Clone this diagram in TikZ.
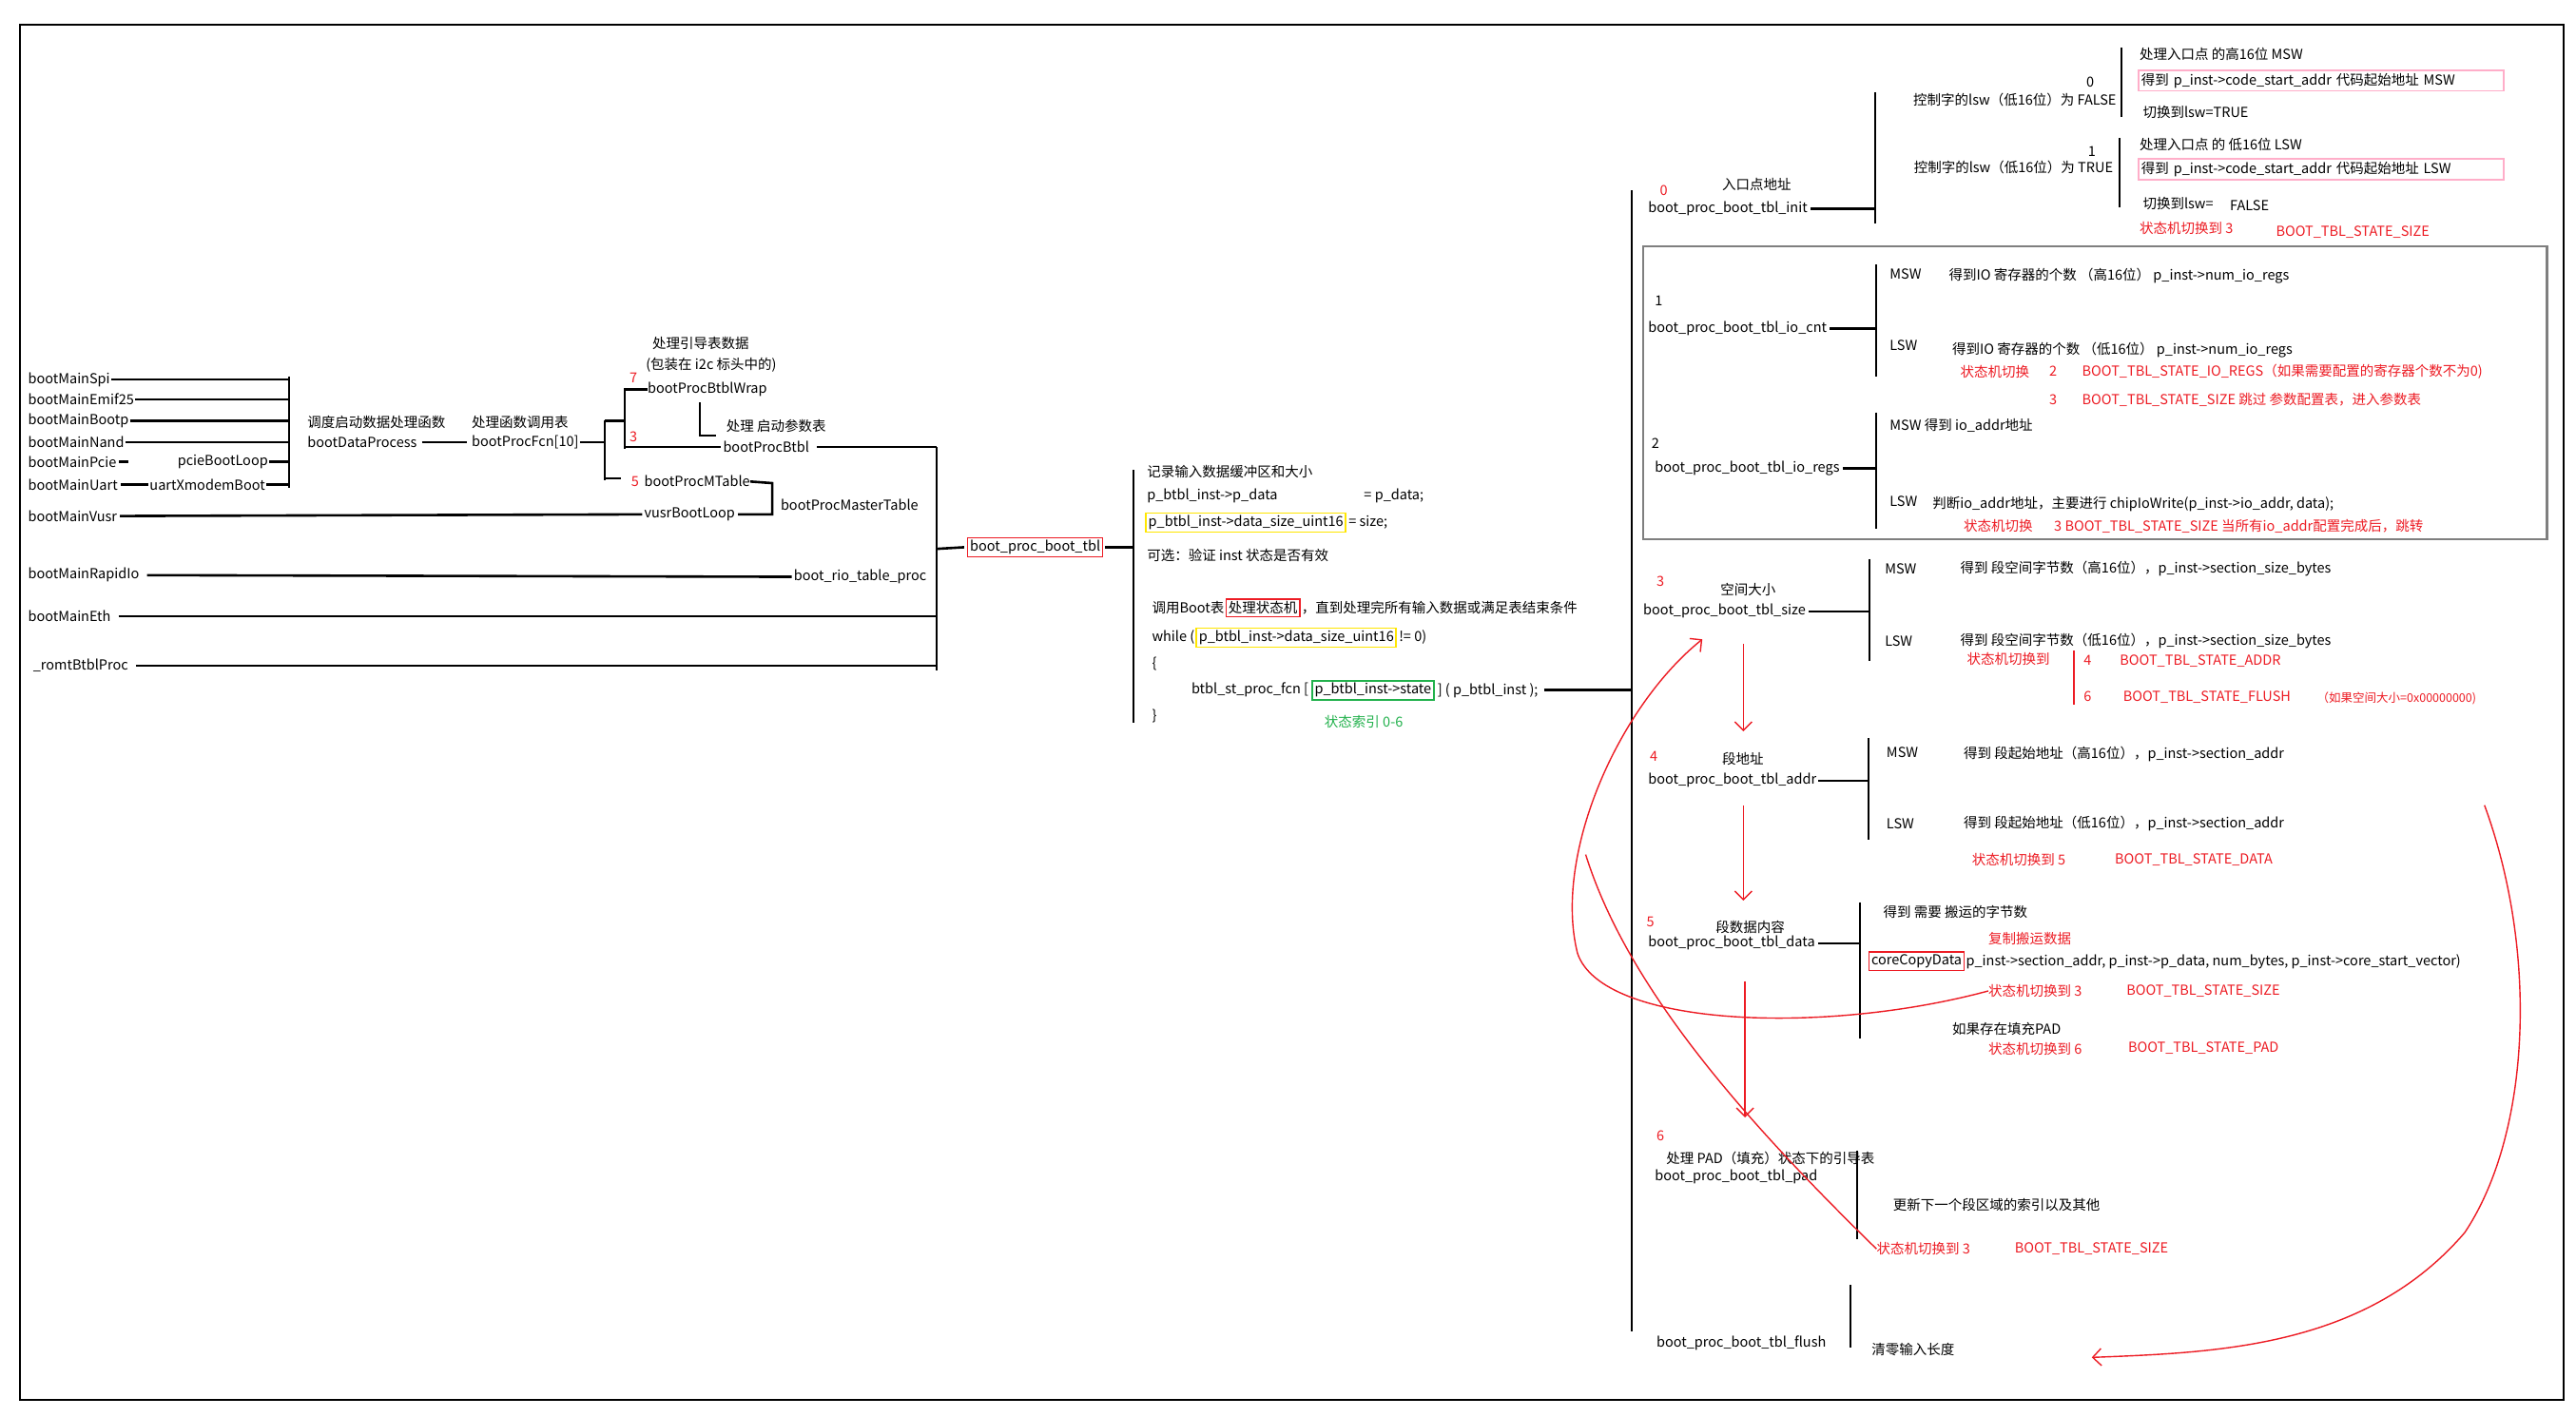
\documentclass[tikz,border=0pt]{standalone}
\usepackage{fontspec}
\setmainfont{Noto Sans CJK SC}
\usetikzlibrary{arrows.meta}
\definecolor{myred}{RGB}{237,28,36}
\definecolor{mygreen}{RGB}{34,177,76}
\definecolor{myyellow}{RGB}{255,230,0}
\definecolor{mypink}{RGB}{255,174,201}
\definecolor{mygray}{RGB}{127,127,127}
\begin{document}
\begin{tikzpicture}[x=1.728pt,y=-1.728pt,
 t/.style={anchor=west,inner sep=0pt,font=\fontsize{14.5}{17}\selectfont},
 te/.style={t,anchor=east},
 r/.style={t,text=myred},
 g/.style={t,text=mygreen},
 ln/.style={line width=2.6pt},
 bar/.style={line width=2pt},
 box/.style={t,line width=1.6pt,inner sep=2.5pt},
 rbox/.style={box,draw=myred},
 ybox/.style={box,draw=myyellow},
 pbox/.style={box,draw=mypink,inner sep=3pt,text width=378pt,align=left},
 arr/.style={myred,line width=1.4pt,-{Straight Barb[length=9pt,width=18pt,line width=1.4pt]}},
 cur/.style={myred,line width=1.4pt}]
\useasboundingbox (0,0) rectangle (1567.7,861.7);
\fill[white] (0,0) rectangle (1567.7,861.7);
\draw[line width=2pt] (12,15) rectangle (1560,852);

% ---------- left column ----------
\coordinate (A) at (176,230);
\coordinate (C) at (570,272);
\node[t] (spi) at (17,231) {bootMainSpi};
\node[t] (emif) at (17,243) {bootMainEmif25};
\node[t] (bootp) at (17,256) {bootMainBootp};
\node[t] (nand) at (17,269) {bootMainNand};
\node[t] (pcie) at (17,281) {bootMainPcie};
\node[t] (pcl) at (108,281) {pcieBootLoop};
\node[t] (uart) at (17,295) {bootMainUart};
\node[t] (uxb) at (91,295) {uartXmodemBoot};
\node[t] (vusr) at (17,314) {bootMainVusr};
\node[t] (rapid) at (17,350) {bootMainRapidIo};
\node[t] (eth) at (17,375) {bootMainEth};
\node[t] (romt) at (20,405) {\_romtBtblProc};
\draw[bar] (176,229) -- (176,297);
\foreach \n in {spi,emif,bootp,nand,pcl,uxb} \draw[ln] ([xshift=1pt]\n.east) -- (\n.east -| A);
\draw[ln] ([xshift=3pt]pcie.east) -- ([xshift=13pt]pcie.east);
\draw[ln] ([xshift=3pt]uart.east) -- ([xshift=-1pt]uxb.west);

\node[t] (bdpl) at (187,257) {调度启动数据处理函数};
\node[t] (bdp) at (187,269) {bootDataProcess};
\node[t] (bpfl) at (287,257) {处理函数调用表};
\node[t] (bpf) at (287,269) {bootProcFcn[10]};
\draw[ln] ([xshift=5pt]bdp.east) -- ([xshift=-5pt]bpf.west);
\draw[ln] ([xshift=1pt]bpf.east) -- (368,269);
\draw[bar] (368,256) -- (368,292);
\draw[ln] (368,256) -- (380,256);
\draw[bar] (380,236) -- (380,273);
\node[t] (hl1) at (397,209) {处理引导表数据};
\node[t] (hl2) at (393,222) {(包装在 i2c 标头中的)};
\node[r] (n7) at (383,230) {7};
\node[t] (wrap) at (394,237) {bootProcBtblWrap};
\draw[ln] (380,237) -- (wrap.west);
\draw[ln] (426,245) -- (426,265) -- (436,265);
\node[t] (pstb) at (442,259) {处理 启动参数表};
\node[r] (n3) at (383,266) {3};
\node[t] (btbl) at (440,272) {bootProcBtbl};
\draw[ln] (380,272) -- ([xshift=-2pt]btbl.west);
\draw[ln] (368,291) -- (378,291);
\node[r] (n5) at (384,293) {5};
\node[t] (mtab) at (392,293) {bootProcMTable};
\node[t] (vbl) at (392,313) {vusrBootLoop};
\node[t] (mast) at (475,307) {bootProcMasterTable};
\draw[ln] (mtab.east) -- (470,294) -- (470,313) -- ([xshift=3pt]vbl.east);
\draw[ln] ([xshift=3pt]vusr.east) -- ([xshift=-2pt]vbl.west);
\node[t] (rio) at (483,351) {boot\_rio\_table\_proc};
\draw[ln] ([xshift=8pt]rapid.east) -- ([xshift=-2pt]rio.west);
\draw[ln] ([xshift=8pt]btbl.east) -- (btbl.east -| C);
\draw[ln] (C) -- (570,408);
\draw[ln] ([xshift=8pt]eth.east) -- (eth.east -| C);
\draw[ln] ([xshift=8pt]romt.east) -- (romt.east -| C);

\node[rbox,anchor=center] (bpbt) at (630,333) {boot\_proc\_boot\_tbl};
\draw[ln] (570,334) -- ([xshift=-3pt]bpbt.west);
\draw[ln] ([xshift=2pt]bpbt.east) -- (690,333);
\draw[bar] (690,286) -- (690,440);

% ---------- code block ----------
\node[t] (k1) at (698,287) {记录输入数据缓冲区和大小};
\node[t] (k2) at (698,302) {p\_btbl\_inst->p\_data};
\node[t] (k2b) at (830,302) {= p\_data;};
\node[ybox] (k3) at (697,318) {p\_btbl\_inst->data\_size\_uint16};
\node[t] (k3b) at ([xshift=2pt]k3.east) {= size;};
\node[t] (k4) at (698,338) {可选：验证 inst 状态是否有效};
\node[t] (k5) at (701,370) {调用Boot表};
\node[rbox] (k5b) at ([xshift=1pt]k5.east) {处理状态机};
\node[t] (k5c) at ([xshift=1pt]k5b.east) {，直到处理完所有输入数据或满足表结束条件};
\node[t] (k6) at (701,388) {while (};
\node[ybox] (k6b) at ([xshift=1pt]k6.east) {p\_btbl\_inst->data\_size\_uint16};
\node[t] (k6c) at ([xshift=2pt]k6b.east) {!= 0)};
\node[t] (k7) at (701,404) {\{};
\node[t] (k8) at (725,420) {btbl\_st\_proc\_fcn [};
\node[box,draw=mygreen] (k8b) at ([xshift=3pt]k8.east) {p\_btbl\_inst->state};
\node[t] (k8c) at ([xshift=3pt]k8b.east) {] ( p\_btbl\_inst );};
\node[t] (k9) at (701,436) {\}};
\node[g] (k10) at (806,439) {状态索引  0-6};
\coordinate (M) at (993,420);
\draw[ln] ([xshift=6pt]k8c.east) -- (k8c.east -| M);
\draw[bar] (993,116) -- (993,810);

% ---------- state 0 ----------
\node[r] (s0) at (1010,116) {0};
\node[t] (s0l) at (1048,112) {入口点地址};
\node[t] (init) at (1003,127) {boot\_proc\_boot\_tbl\_init};
\draw[ln] ([xshift=3pt]init.east) -- (1141,127);
\draw[bar] (1141,56) -- (1141,136);
\node[t,anchor=center] (z0) at (1272,50) {0};
\node[te] (fal) at (1288,61) {控制字的lsw（低16位）为 FALSE};
\node[t,anchor=center] (z1) at (1273,92) {1};
\node[te] (tru) at (1286,102) {控制字的lsw（低16位）为 TRUE};
\draw[bar] (1291,29) -- (1291,71);
\draw[bar] (1290,84) -- (1290,126);
\node[t] (m1) at (1302,33) {处理入口点 的高16位  MSW};
\node[pbox] (m2) at (1301,49) {得到  p\_inst->code\_start\_addr 代码起始地址 MSW};
\node[t] (m3) at (1304,68) {切换到lsw=TRUE};
\node[t] (l1) at (1302,88) {处理入口点 的 低16位  LSW};
\node[pbox] (l2) at (1301,103) {得到  p\_inst->code\_start\_addr 代码起始地址 LSW};
\node[t] (l3) at (1304,124) {切换到lsw=};
\node[t] (l3b) at (1357,125) {FALSE};
\node[r] (l4) at (1302,139) {状态机切换到  3};
\node[r] (l4b) at (1385,141) {BOOT\_TBL\_STATE\_SIZE};

% ---------- states 1,2 (gray box) ----------
\draw[mygray,line width=2.2pt] (1000,150) rectangle (1550,328);
\node[t] (s1) at (1007,183) {1};
\node[t] (iocnt) at (1003,200) {boot\_proc\_boot\_tbl\_io\_cnt};
\draw[ln] ([xshift=3pt]iocnt.east) -- (1142,200);
\draw[bar] (1142,161) -- (1142,229);
\node[t] (c1a) at (1150,167) {MSW};
\node[t] (c1b) at (1186,168) {得到IO 寄存器的个数 （高16位） p\_inst->num\_io\_regs};
\node[t] (c2a) at (1150,210) {LSW};
\node[t] (c2b) at (1188,213) {得到IO 寄存器的个数 （低16位） p\_inst->num\_io\_regs};
\node[r] (c3a) at (1193,226) {状态机切换};
\node[r] (c3b) at (1247,226) {2};
\node[r] (c3c) at (1267,226) {BOOT\_TBL\_STATE\_IO\_REGS（如果需要配置的寄存器个数不为0)};
\node[r] (c4a) at (1247,243) {3};
\node[r] (c4b) at (1267,243) {BOOT\_TBL\_STATE\_SIZE   跳过 参数配置表，进入参数表};
\node[t] (s2) at (1005,270) {2};
\node[t] (ioregs) at (1007,285) {boot\_proc\_boot\_tbl\_io\_regs};
\draw[ln] ([xshift=3pt]ioregs.east) -- (1142,285);
\draw[bar] (1142,251) -- (1142,322);
\node[t] (d1) at (1150,259) {MSW  得到 io\_addr地址};
\node[t] (d2a) at (1150,305) {LSW};
\node[t] (d2b) at (1176,307) {判断io\_addr地址，主要进行 chipIoWrite(p\_inst->io\_addr, data);};
\node[r] (d3a) at (1195,320) {状态机切换};
\node[r] (d3b) at (1250,320) {3  BOOT\_TBL\_STATE\_SIZE   当所有io\_addr配置完成后，跳转};

% ---------- state 3 ----------
\node[r] (s3) at (1008,354) {3};
\node[t] (s3l) at (1047,359) {空间大小};
\node[t] (size) at (1000,372) {boot\_proc\_boot\_tbl\_size};
\draw[ln] ([xshift=3pt]size.east) -- (1138,372);
\draw[bar] (1138,340) -- (1138,402);
\node[t] (e1a) at (1147,346) {MSW};
\node[t] (e1b) at (1193,346) {得到 段空间字节数（高16位），p\_inst->section\_size\_bytes};
\node[t] (e2a) at (1147,390) {LSW};
\node[t] (e2b) at (1193,390) {得到 段空间字节数（低16位），p\_inst->section\_size\_bytes};
\node[r] (e3) at (1197,401) {状态机切换到};
\draw[myred,line width=1.6pt] (1262,396) -- (1262,429);
\node[r] (e4a) at (1268,402) {4};
\node[r] (e4b) at (1290,402) {BOOT\_TBL\_STATE\_ADDR};
\node[r] (e5a) at (1268,424) {6};
\node[r] (e5b) at (1292,424) {BOOT\_TBL\_STATE\_FLUSH};
\node[r,font=\fontsize{12.5}{15}\selectfont] (e5c) at (1410,425) {（如果空间大小=0x00000000)};

% ---------- state 4 ----------
\node[r] (s4) at (1004,460) {4};
\node[t] (s4l) at (1048,462) {段地址};
\node[t] (addr) at (1003,475) {boot\_proc\_boot\_tbl\_addr};
\draw[ln] ([xshift=2pt]addr.east) -- (1137,475);
\draw[bar] (1137,449) -- (1137,511);
\node[t] (f1a) at (1148,458) {MSW};
\node[t] (f1b) at (1195,459) {得到  段起始地址（高16位），p\_inst->section\_addr};
\node[t] (f2a) at (1148,501) {LSW};
\node[t] (f2b) at (1195,501) {得到  段起始地址（低16位），p\_inst->section\_addr};
\node[r] (f3a) at (1200,523) {状态机切换到   5};
\node[r] (f3b) at (1287,523) {BOOT\_TBL\_STATE\_DATA};

% ---------- state 5 ----------
\node[r] (s5) at (1002,561) {5};
\node[t] (s5l) at (1044,564) {段数据内容};
\node[t] (data) at (1003,574) {boot\_proc\_boot\_tbl\_data};
\draw[ln] ([xshift=3pt]data.east) -- (1132,574);
\draw[bar] (1132,549) -- (1132,632);
\node[t] (g1) at (1146,555) {得到 需要 搬运的字节数};
\node[r] (g2) at (1210,571) {复制搬运数据};
\node[rbox] (g3) at (1137,585) {coreCopyData};
\node[t] (g3b) at ([xshift=1pt]g3.east) {p\_inst->section\_addr, p\_inst->p\_data, num\_bytes, p\_inst->core\_start\_vector)};
\node[r] (g4a) at (1210,603) {状态机切换到  3};
\node[r] (g4b) at (1294,603) {BOOT\_TBL\_STATE\_SIZE};
\node[t] (g5) at (1188,626) {如果存在填充PAD};
\node[r] (g6a) at (1210,638) {状态机切换到 6};
\node[r] (g6b) at (1295,638) {BOOT\_TBL\_STATE\_PAD};

% ---------- state 6 ----------
\node[r] (s6) at (1008,691) {6};
\node[t] (s6l) at (1014,705) {处理 PAD（填充）状态下的引导表};
\node[t] (pad) at (1007,716) {boot\_proc\_boot\_tbl\_pad};
\draw[bar] (1130,700) -- (1130,754);
\node[t] (h1) at (1152,733) {更新下一个段区域的索引以及其他};
\node[r] (h2a) at (1142,760) {状态机切换到  3};
\node[r] (h2b) at (1226,760) {BOOT\_TBL\_STATE\_SIZE};

% ---------- flush ----------
\node[t] (flush) at (1008,817) {boot\_proc\_boot\_tbl\_flush};
\draw[bar] (1126,782) -- (1126,820);
\node[t] (fl1) at (1139,821) {清零输入长度};

% ---------- red arrows ----------
\draw[arr] (1061,392) -- (1061,445);
\draw[arr] (1061,490) -- (1061,548);
\draw[arr] (1062,597) -- (1062,680);
\draw[arr] (g4a.west) .. controls (1110,630) and (975,625) .. (960,580)
  .. controls (945,520) and (985,430) .. (1036,389);
\draw[cur] (h2a.west) .. controls (1060,680) and (990,600) .. (965,520);
\draw[arr] (1512,490) .. controls (1545,580) and (1540,690) .. (1500,750)
  .. controls (1440,820) and (1350,823) .. (1273,826);
\end{tikzpicture}
\end{document}
